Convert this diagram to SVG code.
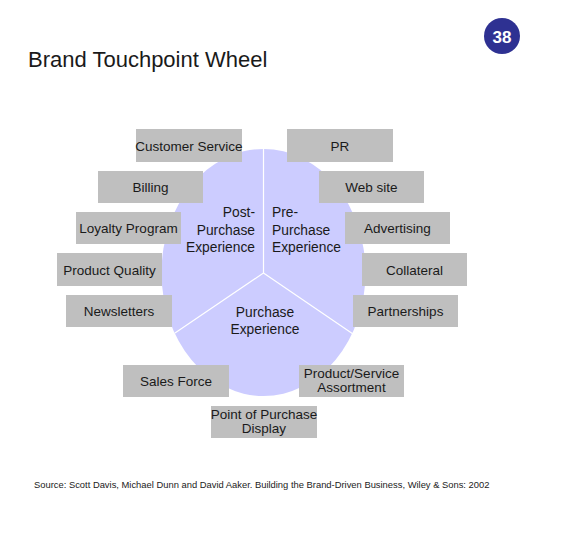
<svg xmlns="http://www.w3.org/2000/svg" width="564" height="535" viewBox="0 0 564 535">
<style>
text{font-family:"Liberation Sans",Arial,sans-serif;fill:#1a1a1a}
.box{fill:#bfbfbf}
.lbl{font-size:13.5px;text-anchor:middle}
.wl{font-size:13.8px}
.div{stroke:#ffffff;stroke-width:1.2;fill:none}
</style>
<rect width="564" height="535" fill="#ffffff"/>
<text x="28" y="67" font-size="22">Brand Touchpoint Wheel</text>
<g id="badge">
<circle cx="502" cy="36" r="18" fill="#2e3192"/>
<text x="502" y="42.5" font-size="17" font-weight="bold" text-anchor="middle" style="fill:#ffffff">38</text>
</g>
<g id="wheel">
<ellipse cx="263.5" cy="272.5" rx="102" ry="123.5" fill="#ccccff"/>
<g id="connectors">
<path class="div" d="M263.5 149 V273 L175 333 M263.5 273 L353 334"/>
</g>
<text class="wl" text-anchor="end"><tspan x="255" y="217">Post-</tspan><tspan x="255" y="235">Purchase</tspan><tspan x="255" y="252">Experience</tspan></text>
<text class="wl"><tspan x="272" y="217">Pre-</tspan><tspan x="272" y="235">Purchase</tspan><tspan x="272" y="252">Experience</tspan></text>
<text class="wl" text-anchor="middle"><tspan x="265" y="317">Purchase</tspan><tspan x="265" y="334">Experience</tspan></text>
</g>
<g id="customer-service"><rect class="box" x="136" y="129" width="106" height="33"/><text class="lbl" x="189" y="150.5">Customer Service</text></g>
<g id="billing"><rect class="box" x="98" y="171" width="105" height="32"/><text class="lbl" x="150.5" y="192">Billing</text></g>
<g id="loyalty-program"><rect class="box" x="76" y="212" width="105" height="32"/><text class="lbl" x="128.5" y="233">Loyalty Program</text></g>
<g id="product-quality"><rect class="box" x="57" y="253" width="105" height="33"/><text class="lbl" x="109.5" y="274.5">Product Quality</text></g>
<g id="newsletters"><rect class="box" x="66" y="295" width="106" height="32"/><text class="lbl" x="119" y="316">Newsletters</text></g>
<g id="pr"><rect class="box" x="287" y="129" width="106" height="33"/><text class="lbl" x="340" y="150.5">PR</text></g>
<g id="web-site"><rect class="box" x="319" y="171" width="105" height="32"/><text class="lbl" x="371.5" y="192">Web site</text></g>
<g id="advertising"><rect class="box" x="345" y="212" width="105" height="32"/><text class="lbl" x="397.5" y="233">Advertising</text></g>
<g id="collateral"><rect class="box" x="362" y="253" width="105" height="33"/><text class="lbl" x="414.5" y="274.5">Collateral</text></g>
<g id="partnerships"><rect class="box" x="353" y="295" width="105" height="32"/><text class="lbl" x="405.5" y="316">Partnerships</text></g>
<g id="sales-force"><rect class="box" x="123" y="365" width="106" height="32"/><text class="lbl" x="176" y="386">Sales Force</text></g>
<g id="product-service-assortment"><rect class="box" x="299" y="365" width="105" height="32"/><text class="lbl"><tspan x="351.5" y="378">Product/Service</tspan><tspan x="351.5" y="392">Assortment</tspan></text></g>
<g id="point-of-purchase-display"><rect class="box" x="211" y="406" width="106" height="32"/><text class="lbl"><tspan x="264" y="419">Point of Purchase</tspan><tspan x="264" y="433">Display</tspan></text></g>
<text x="34" y="488" font-size="9.4" style="fill:#222">Source: Scott Davis, Michael Dunn and David Aaker. Building the Brand-Driven Business, Wiley &amp; Sons: 2002</text>
</svg>
